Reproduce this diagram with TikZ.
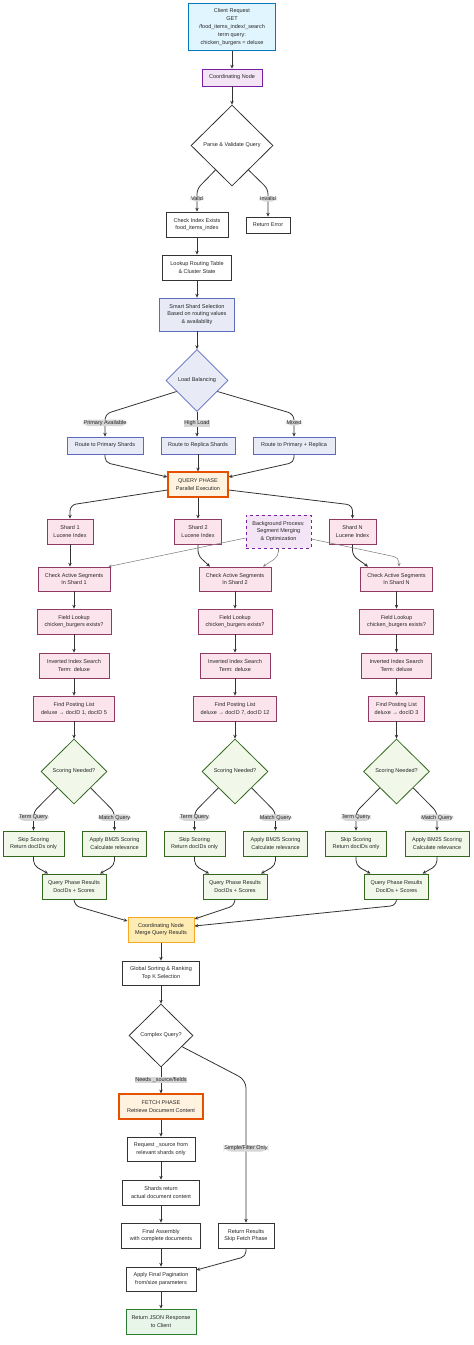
\documentclass[tikz,border=0pt]{standalone}
\usepackage{fontspec}
\setmainfont{Liberation Sans}
\usetikzlibrary{shapes.geometric,arrows.meta,calc}
\newcommand\ff{\fontsize{5.5}{7.8}\selectfont}
\definecolor{bluef}{HTML}{E1F5FE}\definecolor{blued}{HTML}{0277BD}
\definecolor{purf}{HTML}{F3E5F5}\definecolor{purd}{HTML}{7B1FA2}
\definecolor{lavf}{HTML}{E8EAF6}\definecolor{lavd}{HTML}{5C6BC0}
\definecolor{oraf}{HTML}{FFF3E0}\definecolor{orad}{HTML}{E65100}
\definecolor{pinkf}{HTML}{FCE4EC}\definecolor{pinkd}{HTML}{8E3A62}
\definecolor{grnf}{HTML}{F1F8E9}\definecolor{grnd}{HTML}{33691E}
\definecolor{yelf}{HTML}{FFECB3}\definecolor{yeld}{HTML}{F9A825}
\definecolor{okf}{HTML}{E8F5E9}\definecolor{okd}{HTML}{2E7D32}
\definecolor{lnc}{HTML}{333333}
\tikzset{
  box/.style={draw=lnc, fill=white, align=center, inner sep=0pt, font=\ff, text=black!85, line width=0.8pt},
  dia/.style={box, diamond},
  bluebox/.style={fill=bluef, draw=blued},
  purbox/.style={fill=purf, draw=purd},
  lavbox/.style={fill=lavf, draw=lavd},
  orabox/.style={fill=oraf, draw=orad, line width=1.2pt},
  pinkbox/.style={fill=pinkf, draw=pinkd},
  grnbox/.style={fill=grnf, draw=grnd},
  yelbox/.style={fill=yelf, draw=yeld, line width=1pt},
  okbox/.style={fill=okf, draw=okd},
  arr/.style={draw=lnc, line width=0.8pt, -{Stealth[length=3.8pt,width=3.4pt]}},
  garr/.style={draw=gray, line width=0.55pt, -{Stealth[length=3.4pt,width=3pt]}},
  elabel/.style={fill=gray!32, inner sep=0.7pt, font=\ff, text=black!85}
}
\begin{document}
\begin{tikzpicture}[x=1pt,y={(0pt,-1pt)}]
\useasboundingbox (0,0) rectangle (474,1345);
% top
\node[box,bluebox,minimum width=87pt,minimum height=47pt] (req) at (232,27) {Client Request\\GET\\/food\_items\_index/\_search\\term query:\\chicken\_burgers = deluxe};
\node[box,purbox,minimum width=60pt,minimum height=17pt] (cn) at (232,77.5) {Coordinating Node};
\node[dia,minimum width=82pt,minimum height=81pt] (parse) at (232,145.5) {Parse \& Validate Query};
\node[box,minimum width=62pt,minimum height=25pt] (check) at (197,224.5) {Check Index Exists\\food\_items\_index};
\node[box,minimum width=44pt,minimum height=16pt] (err) at (268,225) {Return Error};
\node[box,minimum width=69pt,minimum height=25pt] (lookup) at (197,267.5) {Lookup Routing Table\\\& Cluster State};
\node[box,lavbox,minimum width=75pt,minimum height=33pt] (smart) at (197,314.5) {Smart Shard Selection\\Based on routing values\\\& availability};
\node[dia,lavbox,minimum width=62pt,minimum height=62pt] (lb) at (197,380.5) {Load Balancing};
\node[box,lavbox,minimum width=76pt,minimum height=17pt] (r1) at (105,445.5) {Route to Primary Shards};
\node[box,lavbox,minimum width=74pt,minimum height=17pt] (r2) at (198,445.5) {Route to Replica Shards};
\node[box,lavbox,minimum width=82pt,minimum height=17pt] (r3) at (294,445.5) {Route to Primary + Replica};
\node[box,orabox,minimum width=60pt,minimum height=25pt] (qp) at (198,484.5) {QUERY PHASE\\Parallel Execution};
% shards
\node[box,pinkbox,minimum width=46pt,minimum height=25pt] (s1) at (70,531.5) {Shard 1\\Lucene Index};
\node[box,pinkbox,minimum width=47pt,minimum height=25pt] (s2) at (198,531.5) {Shard 2\\Lucene Index};
\node[box,purbox,dashed,minimum width=65pt,minimum height=33pt] (bg) at (278.5,531.5) {Background Process:\\Segment Merging\\\& Optimization};
\node[box,pinkbox,minimum width=47pt,minimum height=25pt] (sN) at (352.5,531.5) {Shard N\\Lucene Index};
% columns
\foreach \c/\x/\n/\docs/\fw in {1/74/1/{docID 1, docID 5}/81, 2/235/2/{docID 7, docID 12}/83, 3/396.5/N/{docID 3}/56}{
  \node[box,pinkbox,minimum width=72pt,minimum height=24pt] (cas\c) at (\x,579) {Check Active Segments\\In Shard \n};
  \node[box,pinkbox,minimum width=74pt,minimum height=25pt] (fl\c) at (\x,621.5) {Field Lookup\\chicken\_burgers exists?};
  \node[box,pinkbox,minimum width=70pt,minimum height=25pt] (inv\c) at (\x,665.5) {Inverted Index Search\\Term: deluxe};
  \node[box,pinkbox,minimum width=\fw pt,minimum height=25pt] (fpl\c) at (\x,708.5) {Find Posting List\\deluxe → \docs};
  \node[dia,grnbox,minimum width=66pt,minimum height=65pt] (sc\c) at (\x,771.5) {Scoring Needed?};
  \node[box,grnbox,minimum width=61pt,minimum height=25pt] (sk\c) at ($(\x,843.5)+(-40.5,0)$) {Skip Scoring\\Return docIDs only};
  \node[box,grnbox,minimum width=64pt,minimum height=25pt] (bm\c) at ($(\x,843.5)+(40.5,0)$) {Apply BM25 Scoring\\Calculate relevance};
  \node[box,grnbox,minimum width=64pt,minimum height=25pt] (qpr\c) at (\x,886.5) {Query Phase Results\\DocIDs + Scores};
  \draw[arr] (cas\c) -- (fl\c);
  \draw[arr] (fl\c) -- (inv\c);
  \draw[arr] (inv\c) -- (fpl\c);
  \draw[arr] (fpl\c) -- (sc\c);
  \draw[arr, rounded corners=5pt] ($(sc\c.west)!0.5!(sc\c.south)$) -- (sk\c.north |- 0,812) -- node[elabel,pos=0.3]{Term Query} (sk\c.north);
  \draw[arr, rounded corners=5pt] ($(sc\c.east)!0.5!(sc\c.south)$) -- (bm\c.north |- 0,812) -- node[elabel,pos=0.3]{Match Query} (bm\c.north);
  \draw[arr, rounded corners=5pt] (sk\c.south) -- ++(0,9) -- ($(qpr\c.north)+(-26,0)$);
  \draw[arr, rounded corners=5pt] (bm\c.south) -- ++(0,9) -- ($(qpr\c.north)+(26,0)$);
}
% bottom
\node[box,yelbox,minimum width=66pt,minimum height=25pt] (merge) at (161,929.5) {Coordinating Node\\Merge Query Results};
\node[box,minimum width=77pt,minimum height=24pt] (glob) at (161,973) {Global Sorting \& Ranking\\Top K Selection};
\node[dia,minimum width=64pt,minimum height=63pt] (cq) at (161,1035.5) {Complex Query?};
\node[box,orabox,minimum width=84pt,minimum height=25pt] (fetch) at (161,1106.5) {FETCH PHASE\\Retrieve Document Content};
\node[box,minimum width=68pt,minimum height=24pt] (reqsrc) at (161,1149) {Request \_source from\\relevant shards only};
\node[box,minimum width=77pt,minimum height=25pt] (shret) at (161,1192.5) {Shards return\\actual document content};
\node[box,minimum width=79pt,minimum height=25pt] (fa) at (161,1235.5) {Final Assembly\\with complete documents};
\node[box,minimum width=56pt,minimum height=25pt] (rr) at (246,1235.5) {Return Results\\Skip Fetch Phase};
\node[box,minimum width=70pt,minimum height=24pt] (pag) at (161,1279) {Apply Final Pagination\\from/size parameters};
\node[box,okbox,minimum width=70pt,minimum height=25pt] (json) at (161,1321.5) {Return JSON Response\\to Client};
% edges top
\draw[arr] (req) -- (cn);
\draw[arr] (cn) -- (parse);
\draw[arr, rounded corners=5pt] ($(parse.west)!0.6!(parse.south)$) -- (check.north |- 0,189) -- node[elabel,pos=0.43]{Valid} (check.north);
\draw[arr, rounded corners=5pt] ($(parse.east)!0.6!(parse.south)$) -- (err.north |- 0,189) -- node[elabel,pos=0.36]{Invalid} (err.north);
\draw[arr] (check) -- (lookup);
\draw[arr] (lookup) -- (smart);
\draw[arr] (smart) -- (lb);
\draw[arr, rounded corners=6pt] ($(lb.west)!0.35!(lb.south)$) -- (r1.north |- 0,414) -- node[elabel,pos=0.39]{Primary Available} (r1.north);
\draw[arr] (lb.south) -- node[elabel,pos=0.46]{High Load} (lb.south |- r2.north);
\draw[arr, rounded corners=6pt] ($(lb.east)!0.35!(lb.south)$) -- (r3.north |- 0,414) -- node[elabel,pos=0.39]{Mixed} (r3.north);
\draw[arr, rounded corners=5pt] (r1.south) -- ++(0,8) -- (qp.west |- 0,477);
\draw[arr] (r2) -- (qp);
\draw[arr, rounded corners=5pt] (r3.south) -- ++(0,8) -- (qp.east |- 0,477);
\draw[arr, rounded corners=6pt] (qp.west |- 0,490) -- (s1.north |- 0,505) -- (s1.north);
\draw[arr] (qp) -- (s2);
\draw[arr, rounded corners=6pt] (qp.east |- 0,490) -- (sN.north |- 0,505) -- (sN.north);
\draw[arr] (s1.south) -- (s1.south |- cas1.north);
\draw[arr, rounded corners=5pt] (s2.south) -- ++(0,11) -- ($(cas2.north)+(-25,0)$);
\draw[arr, rounded corners=5pt] (sN.south) -- ++(0,11) -- ($(cas3.north)+(-28.5,0)$);
\draw[garr] (bg.west |- 0,538) -- ($(cas1.north east)+(-2,0)$);
\draw[garr, rounded corners=5pt] (bg.south) -- ++(0,8) -- ($(cas2.north)+(28,0)$);
\draw[garr, rounded corners=5pt] (bg.east |- 0,539) -- ($(cas3.north)+(2.5,-9)$) -- ($(cas3.north)+(2.5,0)$);
% edges bottom
\draw[arr, rounded corners=6pt] (qpr1.south) -- ++(0,6) -- (merge.west |- 0,921);
\draw[arr, rounded corners=6pt] (qpr2.south) -- ++(0,6) -- (merge.east |- 0,919);
\draw[arr, rounded corners=6pt] (qpr3.south) -- ++(0,6) -- (merge.east |- 0,926);
\draw[arr] (merge) -- (glob);
\draw[arr] (glob) -- (cq);
\draw[arr] (cq) -- node[elabel,pos=0.48]{Needs \_source/fields} (fetch);
\draw[arr, rounded corners=8pt] ($(cq.east)!0.35!(cq.south)$) -- (rr.north |- 0,1080) -- node[elabel,pos=0.48]{Simple/Filter Only} (rr.north);
\draw[arr] (fetch) -- (reqsrc);
\draw[arr] (reqsrc) -- (shret);
\draw[arr] (shret) -- (fa);
\draw[arr] (fa) -- (pag);
\draw[arr, rounded corners=5pt] (rr.south) -- ++(0,8) -- (pag.east |- 0,1270);
\draw[arr] (pag) -- (json);
\end{tikzpicture}
\end{document}
